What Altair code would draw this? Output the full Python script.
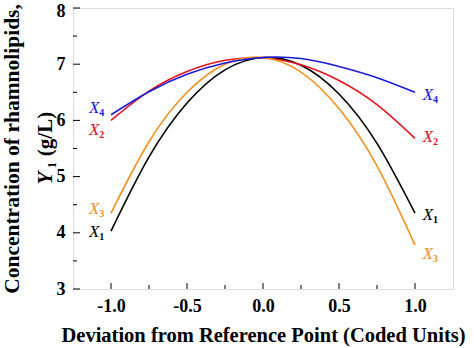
import altair as alt
import pandas as pd

# ---- data ----
x_coded = [-1.0, -0.75, -0.5, -0.25, 0.0, 0.25, 0.5, 0.75, 1.0]
y_x1 = [4.03, 5.35, 6.31, 6.90, 7.12, 6.98, 6.47, 5.59, 4.35]
y_x2 = [6.00, 6.52, 6.87, 7.07, 7.11, 6.99, 6.71, 6.28, 5.68]
y_x3 = [4.35, 5.62, 6.50, 7.00, 7.12, 6.86, 6.21, 5.19, 3.78]
y_x4 = [6.10, 6.51, 6.82, 7.02, 7.12, 7.10, 6.96, 6.76, 6.50]

series_names = ["X1", "X2", "X3", "X4"]
series_colors = ["#000000", "#e3141c", "#f5901e", "#1a1ad8"]
sub_digits = ["1", "2", "3", "4"]

# label anchor points (data coordinates)
label_left_x = -1.11
label_right_x = 1.085
label_left_y = [4.02, 5.83, 4.42, 6.22]
label_right_y = [4.32, 5.70, 3.62, 6.45]

x_major = [-1.0, -0.5, 0.0, 0.5, 1.0]
x_minor = [-0.75, -0.25, 0.25, 0.75]
y_major = [3, 4, 5, 6, 7, 8]
y_minor = [3.5, 4.5, 5.5, 6.5, 7.5]

W, H = 380, 281
FONT = "Liberation Serif"

rows = []
for name, ys in zip(series_names, [y_x1, y_x2, y_x3, y_x4]):
    for xv, yv in zip(x_coded, ys):
        rows.append({"x": xv, "y": yv, "series": name})
df = pd.DataFrame(rows)

lab_rows = []
for name, d, ly, ry in zip(series_names, sub_digits, label_left_y, label_right_y):
    lab_rows.append({"x": label_left_x, "y": ly, "series": name, "sub": d})
    lab_rows.append({"x": label_right_x, "y": ry, "series": name, "sub": d})
lab_df = pd.DataFrame(lab_rows)

xscale = alt.Scale(domain=[-1.25, 1.25], nice=False, zero=False)
yscale = alt.Scale(domain=[3, 8], nice=False, zero=False)
cscale = alt.Scale(domain=series_names, range=series_colors)

xaxis = alt.Axis(
    values=x_major, ticks=False, domain=False, grid=False,
    labelExpr="replace(format(datum.value, '.1f'), '\u2212', '-')",
    labelFont=FONT, labelFontWeight="bold", labelFontSize=18, labelColor="black",
    labelPadding=8,
    title="Deviation from Reference Point (Coded Units)",
    titleFont=FONT, titleFontWeight="bold", titleFontSize=20.5, titleColor="black",
    titlePadding=10,
)
yaxis = alt.Axis(
    values=y_major, ticks=False, domain=False, grid=False, format="d",
    labelFont=FONT, labelFontWeight="bold", labelFontSize=18, labelColor="black",
    labelPadding=8,
    labelOffset=alt.condition("datum.value == 8", alt.value(3), alt.value(0)),
    title="Concentration of rhamnolipids,",
    titleFont=FONT, titleFontWeight="bold", titleFontSize=21.5, titleColor="black",
    titlePadding=33,
)

lines = alt.Chart(df).mark_line(interpolate="natural", strokeWidth=1.6).encode(
    x=alt.X("x:Q", scale=xscale, axis=xaxis),
    y=alt.Y("y:Q", scale=yscale, axis=yaxis),
    color=alt.Color("series:N", scale=cscale, legend=None),
    detail="series:N",
)

labels_x = alt.Chart(lab_df).mark_text(
    font=FONT, fontStyle="italic", fontSize=17, align="center", baseline="middle"
).encode(
    x=alt.X("x:Q", scale=xscale),
    y=alt.Y("y:Q", scale=yscale),
    text=alt.value("X"),
    color=alt.Color("series:N", scale=cscale, legend=None),
)
labels_sub = alt.Chart(lab_df).mark_text(
    font=FONT, fontSize=10, fontWeight="bold", align="left", baseline="middle", dx=5, dy=5
).encode(
    x=alt.X("x:Q", scale=xscale),
    y=alt.Y("y:Q", scale=yscale),
    text="sub:N",
    color=alt.Color("series:N", scale=cscale, legend=None),
)

xt_major = alt.Chart(pd.DataFrame({"v": x_major})).mark_rule(color="black", strokeWidth=1).encode(
    x=alt.X("v:Q", scale=xscale), y=alt.value(H), y2=alt.value(H - 6))
xt_minor = alt.Chart(pd.DataFrame({"v": x_minor})).mark_rule(color="black", strokeWidth=1).encode(
    x=alt.X("v:Q", scale=xscale), y=alt.value(H), y2=alt.value(H - 4))
yt_major = alt.Chart(pd.DataFrame({"v": y_major})).mark_rule(color="black", strokeWidth=1).encode(
    y=alt.Y("v:Q", scale=yscale), x=alt.value(0), x2=alt.value(7))
yt_minor = alt.Chart(pd.DataFrame({"v": y_minor})).mark_rule(color="black", strokeWidth=1).encode(
    y=alt.Y("v:Q", scale=yscale), x=alt.value(0), x2=alt.value(4))

# second line of the y title: italic Y, subscript 1, "(g/L)"
ytitle_Y = alt.Chart(pd.DataFrame({"t": ["Y"]})).mark_text(
    font=FONT, fontStyle="italic", fontWeight="bold", fontSize=21, angle=270,
    align="center", baseline="middle"
).encode(x=alt.value(-27), y=alt.value(170), text="t:N")
ytitle_1 = alt.Chart(pd.DataFrame({"t": ["1"]})).mark_text(
    font=FONT, fontWeight="bold", fontSize=12, angle=270,
    align="center", baseline="middle"
).encode(x=alt.value(-21), y=alt.value(157), text="t:N")
ytitle_g = alt.Chart(pd.DataFrame({"t": ["(g/L)"]})).mark_text(
    font=FONT, fontWeight="bold", fontSize=21, angle=270,
    align="center", baseline="middle"
).encode(x=alt.value(-27), y=alt.value(126), text="t:N")

chart = alt.layer(
    lines, labels_x, labels_sub, xt_major, xt_minor, yt_major, yt_minor,
    ytitle_Y, ytitle_1, ytitle_g
).properties(
    width=W, height=H,
    autosize=alt.AutoSizeParams(type="none"),
    padding={"left": 73, "top": 8, "right": 21, "bottom": 59},
).configure_view(
    stroke="#222222", strokeWidth=1.5
).configure(background="white")

chart.save("out.html", embed_options={"renderer": "svg", "actions": False})
